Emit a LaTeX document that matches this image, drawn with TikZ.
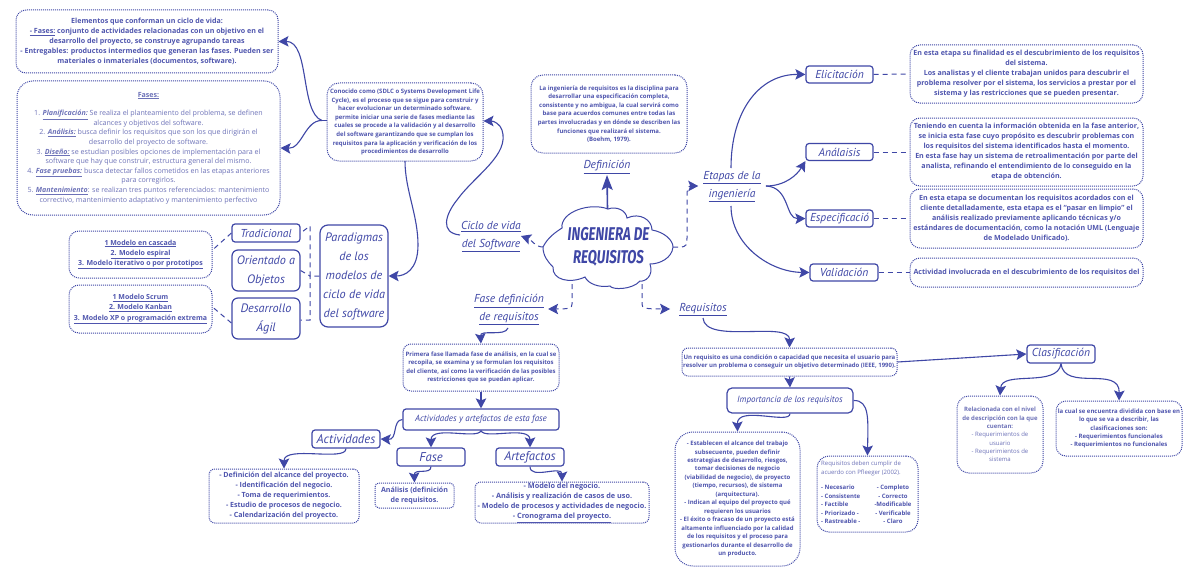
\documentclass[tikz,border=0pt]{standalone}
\usepackage{fontspec}
\usepackage{graphicx}
\usetikzlibrary{arrows.meta,calc}
\setmainfont{Open Sans}
\newfontfamily\handfont{PT Sans}
\newfontfamily\titlefont{Fira Sans}
\definecolor{navy}{HTML}{3F47A6}
\definecolor{ink}{HTML}{4F55AE}
\definecolor{inklt}{HTML}{6D72B8}
\tikzset{
  dotbox/.style={draw=navy,line width=1pt,dash pattern=on 1pt off 1pt,rounded corners=10pt,align=center,inner sep=0pt,text=ink},
  solbox/.style={draw=navy,line width=1.2pt,rounded corners=3pt,align=center,inner sep=0pt,text=navy},
  hand/.style={text=navy,align=center,inner sep=0pt,font=\handfont\itshape\fontsize{11.5}{18}\selectfont},
  handbig/.style={hand,font=\handfont\itshape\fontsize{12.2}{19}\selectfont},
  handhead/.style={hand,font=\handfont\itshape\fontsize{12.7}{14}\selectfont},
  curve/.style={draw=navy,line width=1.1pt,-{Stealth[length=10pt,width=10.5pt,inset=2pt]}},
  dashln/.style={draw=navy,line width=1pt,dash pattern=on 5pt off 4pt},
  dashtip/.style={dashln,-{Stealth[length=10pt,width=10.5pt,inset=2pt,sep=0pt]}},
  txt/.style={font=\bfseries\fontsize{7.1}{10}\selectfont},
  txtb/.style={font=\bfseries\fontsize{6}{8.6}\selectfont},
  txtl/.style={font=\fontsize{7.1}{9.6}\selectfont,text=inklt},
}
\begin{document}
\begin{tikzpicture}[x=1pt,y=-1pt]
\useasboundingbox[fill=white] (0,0) rectangle (1200,578);

% left top
\node[dotbox,txt,minimum width=262pt,minimum height=63pt] (elem) at (147,41.5) {Elementos que conforman un ciclo de vida:\\\underline{- Fases:} conjunto de actividades relacionadas con un objetivo en el\\desarrollo del proyecto, se construye agrupando tareas\\- Entregables: productos intermedios que generan las fases. Pueden ser\\materiales o inmateriales (documentos, software).};
\node[dotbox,txtl,rounded corners=16pt,minimum width=263pt,minimum height=134pt] (fases) at (148.5,148) {\textbf{\underline{Fases:}}\\[9pt]1. \textbf{\textit{\underline{Planificación:}}} Se realiza el planteamiento del problema, se definen\\alcances y objetivos del software.\\2. \textbf{\textit{\underline{Análisis:}}} busca definir los requisitos que son los que dirigirán el\\desarrollo del proyecto de software.\\3. \textbf{\textit{\underline{Diseño:}}} se estudian posibles opciones de implementación para el\\software que hay que construir, estructura general del mismo.\\4. \textbf{\textit{\underline{Fase pruebas:}}} busca detectar fallos cometidos en las etapas anteriores\\para corregirlos.\\5. \textbf{\textit{\underline{Mantenimiento}}}: se realizan tres puntos referenciados: mantenimiento\\correctivo, mantenimiento adaptativo y mantenimiento perfectivo};
\node[dotbox,txtb,rounded corners=12pt,minimum width=156pt,minimum height=78pt] (cono) at (405,122) {Conocido como (SDLC o Systems Development Life\\Cycle), es el proceso que se sigue para construir y\\hacer evolucionar un determinado software.\\permite iniciar una serie de fases mediante las\\cuales se procede a la validación y al desarrollo\\del software garantizando que se cumplan los\\requisitos para la aplicación y verificación de los\\procedimientos de desarrollo};
\node[dotbox,txtb,rounded corners=12pt,minimum width=156pt,minimum height=78pt] (defi) at (609,114) {La ingeniería de requisitos es la disciplina para\\desarrollar una especificación completa,\\consistente y no ambigua, la cual servirá como\\base para acuerdos comunes entre todas las\\partes involucradas y en dónde se describen las\\funciones que realizará el sistema.\\(Boehm, 1979).};

% cloud
\draw[navy,line width=1pt,fill=white] (543,247)
  .. controls (548,237) and (556,232) .. (562,228)
  .. controls (560,212) and (590,202) .. (608,209)
  .. controls (616,206) and (626,210) .. (627,218)
  .. controls (640,212) and (652,220) .. (652,230)
  .. controls (664,232) and (673,240) .. (673,247)
  .. controls (672,258) and (660,264) .. (650,264)
  .. controls (654,276) and (645,282) .. (640,281)
  .. controls (632,290) and (612,290) .. (610,286)
  .. controls (600,288) and (588,284) .. (585,277)
  .. controls (570,284) and (552,280) .. (553,267)
  .. controls (548,262) and (543,256) .. (543,247) -- cycle;
\coordinate (cloudN) at (607.5,209);
\coordinate (cloudW) at (543,247);
\coordinate (cloudE) at (673,247);
\coordinate (cloudSW) at (572,284);
\coordinate (cloudSE) at (642,284);
\node[text=navy,align=center,inner sep=0pt,font=\titlefont\bfseries\itshape\fontsize{18.5}{23}\selectfont] (title) at (608.5,246.5) {\scalebox{0.72}[1]{INGENIERA DE}\\\scalebox{0.72}[1]{REQUISITOS}};

% labels
\node[hand] (ldef) at (607,167) {\underline{Definición}};
\node[hand] (lcic) at (491,237) {\underline{Ciclo de vida}\\\underline{del Software}};
\node[hand] (leta) at (732,187) {\underline{Etapas de la}\\\underline{ingeniería}};
\node[hand] (lfas) at (509,310) {\underline{Fase definición}\\\underline{de requisitos}};
\node[hand] (lreq) at (703,310) {\underline{Requisitos}};

% right branches
\node[solbox,hand,minimum width=67pt,minimum height=17pt] (eli) at (839.5,74.5) {Elicitación};
\node[solbox,hand,minimum width=67pt,minimum height=17pt] (ana) at (839.5,152) {Análaisis};
\node[solbox,hand,minimum width=67pt,minimum height=17pt] (esp) at (839.5,218.5) {Especificació};
\node[solbox,hand,minimum width=68pt,minimum height=17pt] (val) at (844,272.5) {Validación};
\node[dotbox,txt,minimum width=233pt,minimum height=58pt] (reli) at (1026.5,74) {En esta etapa su finalidad es el descubrimiento de los requisitos\\del sistema.\\Los analistas y el cliente trabajan unidos para descubrir el\\problema resolver por el sistema, los servicios a prestar por el\\sistema y las restricciones que se pueden presentar.};
\node[dotbox,txt,minimum width=233pt,minimum height=68pt] (rana) at (1026.5,152) {Teniendo en cuenta la información obtenida en la fase anterior,\\se inicia esta fase cuyo propósito es descubrir problemas con\\los requisitos del sistema identificados hasta el momento.\\En esta fase hay un sistema de retroalimentación por parte del\\analista, refinando el entendimiento de lo conseguido en la\\etapa de obtención.};
\node[dotbox,txt,minimum width=233pt,minimum height=59pt] (resp) at (1026.5,218.5) {En esta etapa se documentan los requisitos acordados con el\\cliente detalladamente, esta etapa es el ``pasar en limpio'' el\\análisis realizado previamente aplicando técnicas y/o\\estándares de documentación, como la notación UML (Lenguaje\\de Modelado Unificado).};
\node[dotbox,txt,minimum width=233pt,minimum height=29pt] (rval) at (1026.5,272.5) {Actividad involucrada en el descubrimiento de los requisitos del};

% paradigmas
\node[solbox,handbig,rounded corners=8pt,minimum width=68pt,minimum height=102pt] (para) at (354,276) {Paradigmas\\de los\\modelos de\\ciclo de vida\\del software};
\node[solbox,hand,minimum width=68pt,minimum height=18pt] (trad) at (266,233) {Tradicional};
\node[solbox,handbig,rounded corners=6pt,minimum width=68pt,minimum height=41pt] (orie) at (266,270.5) {Orientado a\\Objetos};
\node[solbox,handbig,rounded corners=6pt,minimum width=68pt,minimum height=41pt] (desa) at (266,318.5) {Desarrollo\\Ágil};
\node[dotbox,font=\bfseries\fontsize{7}{10.2}\selectfont,minimum width=143pt,minimum height=47pt] (m1) at (140.5,254.5) {\underline{1 Modelo en cascada}\\\underline{2. Modelo espiral}\\\underline{3. Modelo iterativo o por prototipos}};
\node[dotbox,font=\bfseries\fontsize{7}{10.2}\selectfont,minimum width=143pt,minimum height=48pt] (m2) at (140.5,309) {\underline{1 Modelo Scrum}\\\underline{2. Modelo Kanban}\\\underline{3. Modelo XP o programación extrema}};

% fase branch
\node[dotbox,txtb,rounded corners=8pt,minimum width=156pt,minimum height=47pt] (prim) at (481,367.5) {Primera fase llamada fase de análisis, en la cual se\\recopila, se examina y se formulan los requisitos\\del cliente, así como la verificación de las posibles\\restricciones que se puedan aplicar.};
\node[solbox,hand,font=\handfont\itshape\fontsize{9}{12}\selectfont,minimum width=156pt,minimum height=21pt] (acar) at (481,419.5) {Actividades y artefactos de esta fase};
\node[solbox,handhead,minimum width=68pt,minimum height=18pt] (fase) at (431,457) {Fase};
\node[solbox,handhead,minimum width=68pt,minimum height=18pt] (arte) at (530,457) {Artefactos};
\node[solbox,handhead,minimum width=68pt,minimum height=18pt] (acti) at (346,439) {Actividades};
\node[dotbox,font=\bfseries\fontsize{7.3}{10.2}\selectfont,rounded corners=6pt,minimum width=174pt,minimum height=41pt] (mode) at (562,502.5) {- Modelo del negocio.\\- Análisis y realización de casos de uso.\\- Modelo de procesos y actividades de negocio.\\- \underline{Cronograma del proyecto.}};
\node[dotbox,txt,rounded corners=4pt,minimum width=79pt,minimum height=25pt] (anal) at (414.5,495.5) {Análisis (definición\\de requisitos.};
\node[dotbox,txt,rounded corners=6pt,minimum width=150pt,minimum height=54pt] (alca) at (284,496) {- Definición del alcance del proyecto.\\- Identificación del negocio.\\- Toma de requerimientos.\\- Estudio de procesos de negocio.\\- Calendarización del proyecto.};

% requisitos branch
\node[dotbox,txtb,rounded corners=6pt,minimum width=215pt,minimum height=28pt] (unre) at (789.5,362) {Un requisito es una condición o capacidad que necesita el usuario para\\resolver un problema o conseguir un objetivo determinado (IEEE, 1990).};
\node[solbox,hand,font=\handfont\itshape\fontsize{9}{12}\selectfont,minimum width=126pt,minimum height=25pt,rounded corners=5pt] (impo) at (790,400.5) {Importancia de los requisitos};
\node[dotbox,font=\bfseries\fontsize{6}{8.45}\selectfont,rounded corners=18pt,minimum width=125pt,minimum height=134pt] (esta) at (737.5,499) {- Establecen el alcance del trabajo\\subsecuente, pueden definir\\estrategias de desarrollo, riesgos,\\tomar decisiones de negocio\\(viabilidad de negocio), de proyecto\\(tiempo, recursos), de sistema\\(arquitectura).\\- Indican al equipo del proyecto qué\\requieren los usuarios\\- El éxito o fracaso de un proyecto está\\altamente influenciado por la calidad\\de los requisitos y el proceso para\\gestionarlos durante el desarrollo de\\un producto.};
\node[dotbox,rounded corners=12pt,minimum width=101pt,minimum height=76pt] (pfle) at (867.5,494) {};
\node[text=inklt,align=left,inner sep=0pt,font=\fontsize{6}{8.4}\selectfont,anchor=north west] (pflt) at (821,461) {Requisitos deben cumplir de\\acuerdo con Pfleeger (2002).};
\node[text=ink,align=left,inner sep=0pt,font=\bfseries\fontsize{6}{8.45}\selectfont,anchor=north west] (pfa) at (821,485) {- Necesario\\- Consistente\\- Factible\\- Priorizado -\\- Rastreable -};
\node[text=ink,align=center,inner sep=0pt,font=\bfseries\fontsize{6}{8.45}\selectfont,anchor=north] (pfb) at (893,485) {- Completo\\- Correcto\\-Modificable\\- Verificable\\- Claro};
\node[solbox,hand,minimum width=68pt,minimum height=18pt] (clas) at (1061,354) {Clasificación};
\node[dotbox,rounded corners=12pt,font=\fontsize{6}{8.3}\selectfont,text=inklt,minimum width=86pt,minimum height=77pt] (rela) at (1000,434.5) {\textbf{Relacionada con el nivel}\\\textbf{de descripción con la que}\\\textbf{cuentan:}\\- Requerimientos de\\usuario\\- Requerimientos de\\sistema};
\node[dotbox,font=\bfseries\fontsize{6}{8.4}\selectfont,rounded corners=10pt,minimum width=126pt,minimum height=55pt] (lacu) at (1119,428.5) {la cual se encuentra dividida con base en\\lo que se va a describir, las\\clasificaciones son:\\- Requerimientos funcionales\\- Requerimientos no funcionales};

% solid connectors
\draw[curve,line width=1.6pt,-{Stealth[length=15pt,width=11pt,inset=3pt]}] (cloudN) -- (ldef.south |- 0,175);
\coordinate (etN) at (731,168);
\draw[curve] (etN) .. controls (731,110) and (760,74) .. (eli.west);
\coordinate (etR) at (766,186);
\draw[curve] (etR) .. controls (785,186) and (797,175) .. (ana.south west);
\draw[curve] (etR) .. controls (790,187) and (785,219) .. (esp.west);
\coordinate (etS) at (731,206);
\draw[curve] (etS) .. controls (731,245) and (770,272) .. (val.west);

\coordinate (cicS) at (460,235);
\draw[curve] (cicS) .. controls (440,233) and (445,215) .. (457,200) .. controls (475,175) and (510,155) .. (502,130) .. controls (500,124) and (494,121) .. (cono.east |- 0,121);
\coordinate (conoS) at (405,161);
\draw[curve] (conoS) .. controls (405,190) and (418,215) .. (418,245) .. controls (418,270) and (405,276) .. (para.east);
\coordinate (conoW) at (322,120.5);
\draw[line width=1.1pt,navy] (cono.west |- conoW) -- (conoW);
\draw[curve] (conoW) .. controls (300,113) and (310,41) .. (elem.east);
\draw[curve] (conoW) .. controls (305,120) and (302,149) .. (fases.east);

\coordinate (lfasS) at (508,328);
\draw[curve] (lfasS) .. controls (505,337) and (480,329) .. (prim.north);
\draw[curve] (prim.south) -- (acar.north);
\draw[curve] (acar.south) .. controls (478,440) and (431,425) .. (fase.north);
\draw[curve] (acar.south) .. controls (484,440) and (530,425) .. (arte.north);
\draw[curve] (arte.south) .. controls (530,480) and (562,465) .. (mode.north);
\draw[curve] (fase.south) .. controls (431,475) and (414,468) .. (anal.north);
\draw[curve] (acar.west) .. controls (392,420) and (398,440) .. (acti.east);
\draw[curve] (acti.south) .. controls (346,462) and (284,445) .. (alca.north);

\coordinate (lreqS) at (703,318);
\draw[curve] (lreqS) .. controls (705,345) and (790,320) .. (unre.north);
\draw[curve] (unre.south) -- (impo.north);
\draw[curve] (impo.south) .. controls (790,425) and (737,405) .. (esta.north);
\draw[curve] (impo.east) .. controls (870,400) and (868,420) .. (pfle.north);
\draw[curve] (unre.east) -- (clas.west);
\draw[curve] (clas.south) .. controls (1058,388) and (1002,370) .. (rela.north);
\draw[curve] (clas.south) .. controls (1064,392) and (1120,365) .. (lacu.north);

% dashed connectors
\draw[dashtip] (cloudW) .. controls (535,247) and (532,240) .. (lcic.east |- 0,236);
\draw[dashtip,shorten >=5pt] (cloudE) -- (680,247) .. controls (687,247) and (687,244) .. (687,238) -- (687,195) .. controls (687,188) and (689,186) .. (leta.west |- 0,186);
\draw[dashtip,shorten >=4pt] (cloudSW) -- (572,304) .. controls (572,308) and (570,309) .. (lfas.east |- 0,309);
\draw[dashtip,shorten >=9pt] (cloudSE) -- (642,304) .. controls (642,308) and (644,309) .. (lreq.west |- 0,309);
\draw[dashln] (eli.east) -- (reli.west);
\draw[dashln] (ana.east) -- (rana.west);
\draw[dashln] (esp.east) -- (resp.west);
\draw[dashln] (val.east) -- (rval.west);
\coordinate (vtop) at (310,226);
\coordinate (vbot) at (310,320);
\coordinate (vmid) at (310,276);
\draw[dashln] (para.west) -- (vmid) -- (vtop) -- (trad.east);
\draw[dashln] (orie.east) -- (vmid) -- (vbot) -- (desa.east |- vbot);
\draw[dashln] (trad.west) -- (m1.east |- 0,250);
\draw[dashln] (desa.west |- 0,323) -- (m2.east |- 0,307);
\end{tikzpicture}
\end{document}
